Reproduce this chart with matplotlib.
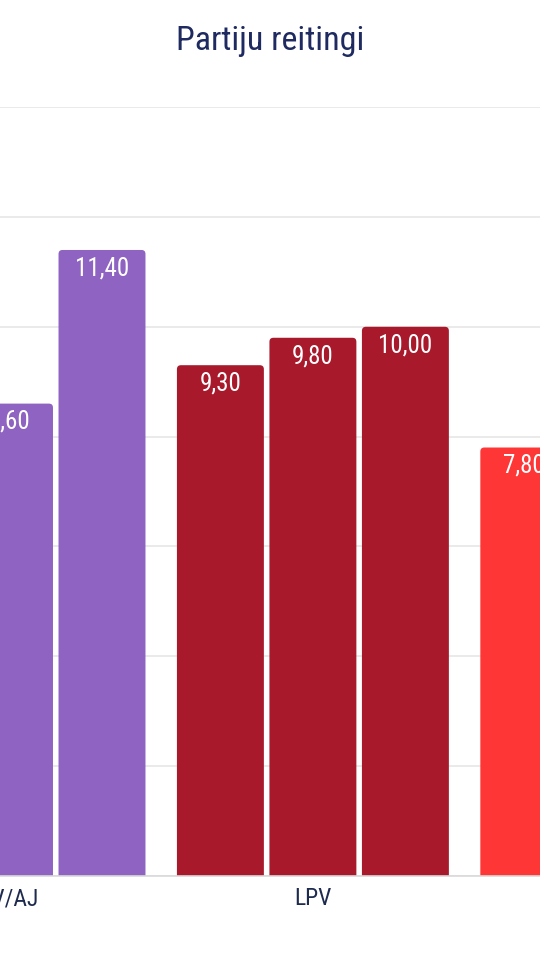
import numpy as np
import matplotlib
matplotlib.use("Agg")
import matplotlib.pyplot as plt
from matplotlib.patches import FancyBboxPatch

# chart data (only the part visible in the reference crop)
parties = ["JV/AJ", "LPV", "S!"]
party_colors = ["#8E63C1", "#A8192C", "#FF3636"]
# three polls per party, nan = bar outside the visible frame
ratings = {
    "JV/AJ": [np.nan, 8.60, 11.40],
    "LPV": [9.30, 9.80, 10.00],
    "S!": [7.80, np.nan, np.nan],
}
y_ticks = [0, 2, 4, 6, 8, 10, 12, 14]

plt.rcParams['font.family'] = ['Roboto Condensed', 'Roboto', 'DejaVu Sans']

fig = plt.figure(figsize=(5.4, 9.6), dpi=100)
ax = fig.add_axes([0, 84.5 / 960, 1, (875.5 - 107.3) / 960])

group_step = 3.28
bar_w = 0.94
px_x = 92.5    # pixels per x unit
px_y = 54.9    # pixels per y unit
radius = 4 / px_x

for i, party in enumerate(parties):
    vals = ratings[party]
    xs = i * group_step + np.arange(len(vals)) - 1
    for x, v in zip(xs, vals):
        if np.isnan(v):
            continue
        # rounded box that starts below the axis, so the bottom corners get clipped
        ax.add_patch(FancyBboxPatch((x - bar_w / 2, -1), bar_w, v + 1,
                                    boxstyle=f"round,pad=0,rounding_size={radius}",
                                    mutation_aspect=px_x / px_y,
                                    facecolor=party_colors[i], edgecolor="none", zorder=3))
        ax.annotate(f"{v:.2f}".replace(".", ","), (x, v), xytext=(0, -4.5),
                    textcoords="offset points", ha="center", va="top",
                    color="white", fontsize=18, zorder=4)

ax.set_xticks([i * group_step for i in range(len(parties))])
ax.set_xticklabels(parties, fontsize=17, color="#1F2A4F")
ax.set_yticks(y_ticks)
ax.set_xlim(-9.5 / px_x, (540 - 9.5) / px_x)
ax.set_ylim(0, 14)
ax.yaxis.grid(True, color="#E6E6E6", linewidth=1.2)
ax.set_axisbelow(True)
ax.tick_params(axis="x", length=0, pad=8.5)
ax.tick_params(axis="y", length=0, labelleft=False)
for side in ["top", "left", "right"]:
    ax.spines[side].set_visible(False)
ax.spines["bottom"].set_color("#D9D9D9")
ax.spines["bottom"].set_linewidth(1.2)
ax.spines["bottom"].set_zorder(5)

fig.text(0.5, 1 - 50 / 960, "Partiju reitingi", ha="center", va="baseline",
         fontsize=24.5, color="#1E2A60")

fig.savefig("out.png", dpi=100)
